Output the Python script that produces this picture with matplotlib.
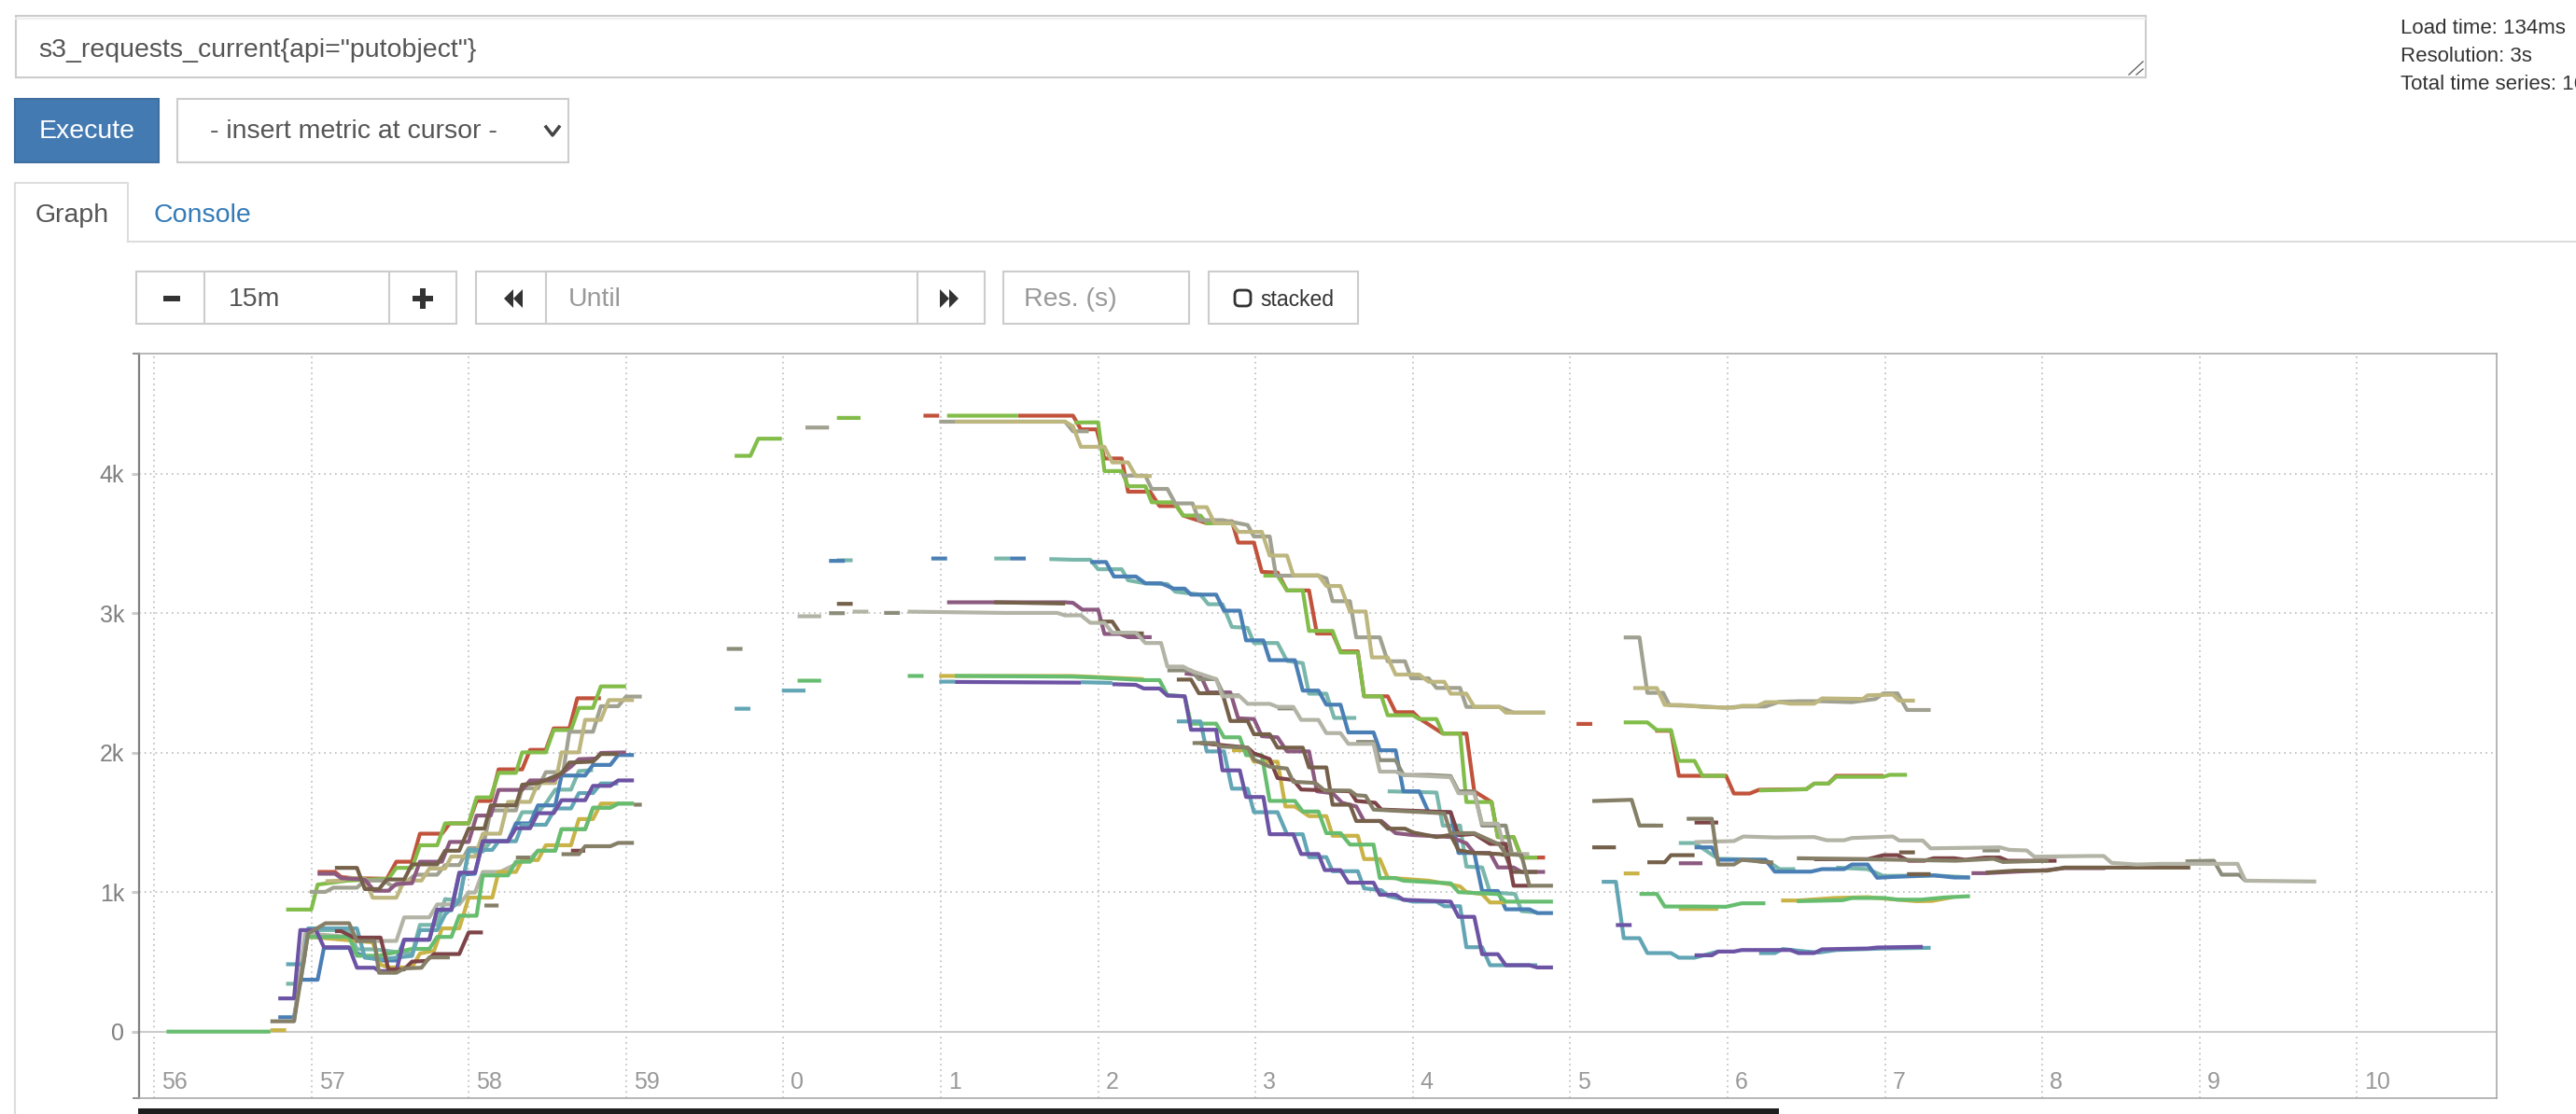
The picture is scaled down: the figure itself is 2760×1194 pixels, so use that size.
import numpy as np
import matplotlib
matplotlib.use('Agg')
import matplotlib.pyplot as plt
from matplotlib.patches import Rectangle, Polygon, FancyBboxPatch

plt.rcParams['font.family'] = ['Liberation Sans', 'DejaVu Sans']

W, H = 2760, 1194

# time is in minutes, 60 means the "0" tick of the next hour
x_ticks = [56, 57, 58, 59, 60, 61, 62, 63, 64, 65, 66, 67, 68, 69, 70]
x_labels = ['56', '57', '58', '59', '0', '1', '2', '3', '4', '5', '6', '7', '8', '9', '10']
y_ticks = [0, 1000, 2000, 3000, 4000]
y_labels = ['0', '1k', '2k', '3k', '4k']

# None = gap in the series
red = [(57.04,1145),(57.15,1145),(57.19,1108),(57.27,1100),(57.48,1096),(57.54,1218),(57.64,1218),(57.69,1419),(57.83,1419),(57.88,1493),(58.0,1493),(58.05,1654),(58.14,1654),(58.19,1880),(58.34,1880),(58.39,2020),(58.49,2020),(58.54,2174),(58.64,2174),(58.69,2390),(58.84,2390),None,
       (60.89,4416),(60.99,4416),None,(61.49,4416),(61.84,4416),(61.89,4318),(61.99,4318),(62.04,4109),(62.15,4109),(62.19,3871),(62.33,3871),(62.39,3768),(62.50,3768),(62.54,3700),(62.69,3645),(62.85,3659),(62.89,3506),(62.99,3506),(63.04,3296),(63.14,3291),(63.20,3163),(63.34,3163),(63.39,2854),(63.49,2854),(63.54,2726),(63.65,2726),(63.69,2404),(63.84,2404),(63.89,2290),(64.0,2290),(64.04,2246),(64.19,2137),(64.34,2137),(64.39,1723),(64.50,1646),(64.54,1395),(64.64,1395),(64.69,1248),(64.84,1248),None,
       (65.04,2206),(65.14,2206),None,(65.54,2157),(65.64,2157),(65.69,1834),(65.99,1834),(66.04,1707),(66.14,1707),(66.20,1734),(66.50,1738),(66.55,1778),(66.64,1778),(66.69,1834),(66.99,1834)]
green = [(56.84,875),(57.0,875),(57.04,1054),(57.23,1083),(57.49,1096),(57.54,1174),(57.64,1174),(57.69,1336),(57.80,1336),(57.85,1493),(58.0,1493),(58.05,1679),(58.14,1679),(58.19,1855),(58.30,1855),(58.34,2002),(58.49,2002),(58.54,2162),(58.65,2162),(58.70,2321),(58.79,2321),(58.84,2475),(59.0,2475),None,
         (59.69,4128),(59.79,4128),(59.84,4251),(59.99,4251),None,(60.34,4400),(60.49,4400),None,(61.04,4416),(61.49,4416),None,(61.85,4367),(62.0,4368),(62.04,4019),(62.15,4019),(62.19,3910),(62.30,3910),(62.34,3795),(62.48,3795),(62.54,3700),(62.65,3700),(62.69,3645),(62.86,3645),None,
         (63.05,3269),(63.14,3269),(63.20,3163),(63.30,3163),(63.34,2873),(63.49,2873),(63.54,2718),(63.65,2718),(63.69,2404),(63.80,2404),(63.84,2268),(64.0,2268),(64.04,2241),(64.15,2241),(64.19,2137),(64.30,2137),(64.34,1646),(64.50,1646),(64.54,1395),(64.64,1395),(64.69,1248),(64.79,1248),None,
         (65.34,2217),(65.49,2217),(65.55,2162),(65.64,2162),(65.69,1941),(65.79,1941),(65.84,1834),(65.99,1834),None,(66.20,1729),(66.50,1738),(66.55,1778),(66.64,1778),(66.69,1827),(66.99,1827),(67.03,1841),(67.14,1841)]
gray = [(56.99,1002),(57.09,1002),(57.14,1032),(57.29,1032),(57.34,1083),(57.46,1083),(57.51,1046),(57.59,1059),(57.66,1125),(57.80,1125),(57.85,1194),(57.94,1194),(58.0,1316),(58.09,1316),(58.14,1586),(58.30,1586),(58.34,1745),(58.44,1745),(58.49,1860),(58.60,1860),(58.64,2150),(58.79,2150),(58.84,2333),(58.95,2333),(59.0,2402),(59.10,2402),None,
        (60.14,4331),(60.29,4331),None,(60.99,4373),(61.79,4373),(61.84,4304),(61.94,4304),None,(62.15,3986),(62.30,3986),(62.34,3891),(62.44,3891),(62.49,3787),(62.60,3787),(62.64,3667),(62.79,3667),(62.95,3632),(62.99,3550),(63.09,3550),(63.13,3269),(63.40,3269),(63.45,3250),(63.49,3086),(63.60,3086),(63.64,2827),(63.79,2827),(63.84,2655),(63.95,2655),(63.99,2533),(64.10,2533),(64.15,2464),(64.30,2464),(64.34,2328),(64.55,2328),(64.64,2287),(64.84,2287),None,
        (65.34,2826),(65.44,2826),(65.49,2429),(65.59,2429),(65.63,2340),(65.78,2335),(65.99,2322),(66.09,2331),(66.24,2331),(66.33,2365),(66.46,2369),(66.58,2369),(66.79,2362),(66.94,2385),(66.99,2425),(67.08,2425),(67.14,2306),(67.29,2306)]
khaki = [(57.09,1078),(57.19,1083),(57.24,1100),(57.34,1100),(57.39,960),(57.54,960),(57.59,1083),(57.70,1083),(57.75,1169),(57.85,1169),(57.89,1255),(58.04,1255),(58.09,1419),(58.20,1419),(58.25,1647),(58.39,1647),(58.44,1782),(58.55,1782),(58.59,2002),(58.70,2002),(58.74,2235),(58.84,2235),(58.89,2377),(59.05,2377),None,
         (61.09,4373),(61.79,4373),(61.84,4340),(61.89,4193),(62.04,4193),(62.09,4081),(62.19,4081),(62.24,3983),(62.34,3983),None,(62.60,3760),(62.69,3760),(62.74,3645),(62.85,3645),(62.89,3583),(63.04,3583),(63.09,3413),(63.20,3413),(63.24,3272),(63.40,3272),(63.45,3195),(63.54,3195),(63.60,3012),(63.70,3012),(63.74,2683),(63.84,2683),(63.89,2560),(64.04,2560),(64.10,2508),(64.20,2508),(64.24,2423),(64.34,2423),(64.39,2328),(64.55,2328),(64.59,2287),(64.84,2287),None,
         (65.40,2463),(65.55,2463),(65.60,2342),(65.70,2342),(65.85,2327),(66.04,2322),(66.09,2336),(66.19,2336),(66.24,2362),(66.33,2362),(66.40,2351),(66.55,2351),(66.60,2389),(66.86,2385),(66.89,2411),(67.05,2416),(67.09,2373),(67.19,2373)]
teal = [(56.84,343),(56.93,343),(56.98,728),(57.24,728),(57.29,590),(57.40,590),(57.64,557),(57.69,765),(57.80,765),(57.85,950),(57.94,940),(58.0,1291),(58.09,1291),(58.14,1365),(58.25,1365),(58.34,1573),(58.44,1573),(58.49,1635),(58.55,1735),(58.65,1735),(58.70,1868),(58.79,1875),None,
        (60.34,3379),(60.44,3379),None,(61.34,3392),(61.44,3392),None,(61.69,3388),(61.84,3383),(61.95,3383),(62.0,3315),(62.15,3315),(62.19,3236),(62.30,3214),(62.44,3209),(62.49,3154),(62.59,3141),(62.65,3133),(62.70,3064),(62.79,3064),(62.85,2901),(62.95,2895),(62.99,2786),(63.14,2786),(63.20,2658),(63.30,2642),(63.34,2423),(63.45,2423),(63.50,2249),(63.64,2249),None,
        (63.84,1723),(64.15,1714),(64.19,1477),(64.30,1477),(64.34,1183),(64.44,1177),(64.49,1000),(64.65,986),(64.69,864),(64.79,855),None,
        (65.69,1352),(65.79,1352),(65.94,1239),(66.24,1232),(66.33,1165),(66.43,1165),None,(66.69,1176),(66.89,1165),(66.99,1116),(67.31,1120),(67.54,1105)]
blue = [(56.79,103),(56.89,103),(56.93,372),(57.04,372),(57.08,600),(57.24,600),(57.29,560),(57.44,510),(57.54,510),(57.59,659),(57.75,659),(57.80,870),(57.89,870),(57.94,1125),(58.04,1132),(58.09,1365),(58.25,1365),(58.30,1493),(58.39,1493),(58.44,1622),(58.55,1622),(58.59,1836),(58.74,1836),(58.79,1912),(58.90,1912),(58.95,1983),(59.05,1983),None,
        (60.29,3375),(60.39,3375),None,(60.94,3392),(61.04,3392),None,(61.44,3392),(61.54,3392),None,(61.95,3367),(62.05,3367),(62.10,3263),(62.24,3263),(62.30,3214),(62.40,3214),(62.48,3176),(62.55,3176),(62.59,3133),(62.75,3133),(62.80,3018),(62.90,3018),(62.94,2805),(63.05,2805),(63.09,2663),(63.25,2663),(63.30,2445),(63.40,2445),(63.45,2344),(63.54,2344),(63.59,2145),(63.75,2145),(63.79,2017),(63.89,2017),(63.94,1723),(64.04,1723),(64.10,1573),(64.24,1573),(64.29,1281),(64.39,1281),(64.44,1008),(64.54,1008),(64.59,877),(64.74,877),(64.79,850),(64.89,850),None,
        (65.79,1321),(65.90,1321),(65.94,1232),(66.24,1232),(66.30,1147),(66.53,1147),(66.60,1165),(66.74,1165),(66.79,1198),(66.89,1198),(66.95,1103),(67.05,1109),(67.31,1120),(67.44,1105),(67.54,1105)]
mauve = [(57.04,1132),(57.15,1132),(57.19,1100),(57.34,1090),(57.40,1010),(57.49,1010),(57.54,1059),(57.64,1064),(57.69,1218),(57.83,1218),(57.88,1360),(58.0,1360),(58.05,1549),(58.14,1549),(58.19,1733),(58.34,1733),(58.39,1801),(58.54,1801),(58.59,1850),(58.65,1900),(58.70,1953),(58.81,1958),(58.84,1998),(59.0,2002),None,
         (61.04,3078),(61.79,3078),(61.84,3074),(61.90,3025),(62.0,3025),(62.04,2851),(62.14,2851),(62.19,2828),(62.34,2828),None,(62.55,2568),(62.65,2555),(62.70,2432),(62.84,2432),(62.89,2246),(62.99,2241),(63.04,2118),(63.14,2110),(63.20,2009),(63.34,2009),(63.39,1723),(63.49,1709),(63.55,1641),(63.64,1614),(63.69,1510),(63.80,1510),(63.89,1423),(64.0,1409),(64.15,1401),(64.24,1395),(64.34,1350),(64.39,1281),(64.49,1281),(64.54,1177),(64.64,1177),(64.69,1145),(64.84,1145),None,
         (65.69,1207),(65.84,1207),None,(67.55,1136),(67.64,1136),(68.03,1158),(68.14,1172),(68.40,1172)]
brown = [(57.15,1174),(57.29,1174),(57.34,1022),(57.43,1022),(57.48,1091),(57.59,1091),(57.64,1199),(57.80,1199),(57.85,1297),(57.94,1297),(58.0,1456),(58.10,1456),(58.14,1622),(58.30,1622),(58.34,1770),(58.44,1782),(58.59,1850),(58.64,1929),(58.79,1936),(58.84,1990),(58.95,1990),None,
         (60.34,3067),(60.44,3067),None,(61.34,3078),(61.79,3069),None,(62.0,2940),(62.09,2940),(62.14,2855),(62.29,2855),None,(62.50,2524),(62.59,2524),(62.64,2426),(62.79,2426),(62.84,2227),(62.95,2227),(62.99,2132),(63.09,2132),(63.14,2036),(63.30,2036),(63.34,1894),(63.45,1894),(63.49,1627),(63.60,1627),(63.64,1510),(63.79,1510),(63.84,1455),(63.95,1455),(64.0,1428),(64.15,1395),(64.24,1410),(64.29,1300),(64.39,1281),(64.55,1273),(64.59,1265),(64.63,1145),(64.79,1145),None,
         (65.14,1321),(65.29,1321),None,(65.49,1214),(65.60,1214),(65.64,1265),(65.79,1265),None,(67.09,1285),(67.19,1285),None,(67.14,1129),(67.29,1129),None,(67.64,1140),(67.83,1154),(68.03,1154),(68.14,1176),(68.94,1176)]
lgray = [(56.89,74),(56.96,703),(57.24,680),(57.29,660),(57.43,650),(57.54,650),(57.59,819),(57.75,819),(57.80,912),(57.94,912),(58.0,997),(58.04,997),(58.09,1145),(58.20,1145),(58.30,1200),(58.39,1240),(58.44,1297),(58.55,1297),(58.59,1451),(58.74,1451),(58.79,1605),(58.90,1605),(58.95,1635),(59.05,1635),None,
         (60.09,2978),(60.24,2978),None,(60.44,3011),(60.54,3011),None,(60.79,3011),(61.41,3002),(61.74,3002),(61.79,2984),(61.89,2985),(61.95,2931),(62.04,2931),(62.09,2860),(62.24,2860),(62.30,2786),(62.40,2786),(62.44,2617),(62.54,2617),(62.59,2587),(62.75,2527),(62.79,2404),(62.90,2404),(62.95,2350),(63.09,2350),(63.14,2328),(63.24,2328),(63.29,2235),(63.40,2235),(63.45,2140),(63.54,2140),(63.59,2063),(63.75,2063),(63.79,1864),(63.89,1864),(63.94,1840),(64.10,1832),(64.24,1824),(64.29,1709),(64.39,1709),(64.44,1491),(64.54,1491),(64.59,1273),(64.74,1273),None,
         (65.44,1477),(65.54,1477),None,(65.79,1359),(66.04,1366),(66.10,1399),(66.30,1392),(66.55,1395),(66.63,1372),(66.74,1372),(66.79,1388),(67.05,1399),(67.09,1370),(67.24,1370),(67.29,1314),(67.73,1321),(67.79,1303),(67.90,1299),(67.95,1254),(68.30,1259),(68.39,1259),(68.44,1210),(68.60,1198),(68.76,1203),(69.10,1203),(69.24,1203),(69.29,1082),(69.74,1076)]
olive = [(59.64,2744),(59.74,2744),None,(60.29,3000),(60.39,3000),None,(60.64,3002),(60.74,3002),None,(62.44,2590),(62.59,2590),(62.64,2527),(62.75,2527),(62.80,2410),(62.90,2410),None,(63.14,2317),(63.24,2317),None,(63.64,2077),(63.75,2077),(63.79,1946),(63.89,1946),(63.94,1840),(64.10,1840),(64.24,1832),(64.29,1723),(64.39,1723),(64.44,1477),(64.59,1477),(64.63,1273),(64.69,1273),None,
         (67.62,1299),(67.73,1299),None,(68.91,1221),(69.09,1225),(69.14,1125),(69.25,1125),(69.29,1082)]
yellow = [(56.74,10),(56.84,10),None,(56.98,680),(57.24,655),(57.39,640),(57.44,480),(57.49,460),(57.64,460),(57.69,560),(57.78,580),(57.83,740),(57.94,740),(58.0,961),(58.15,961),(58.19,1145),(58.30,1145),(58.34,1230),(58.44,1230),(58.49,1336),(58.65,1336),(58.70,1524),(58.79,1524),(58.84,1635),(58.95,1635),None,
          (60.99,2550),(61.83,2550),(62.29,2527),None,(62.85,2017),(62.95,2017),(62.99,1935),(63.14,1935),(63.19,1614),(63.25,1614),(63.34,1545),(63.45,1545),(63.49,1404),(63.65,1404),(63.69,1237),(63.79,1237),(63.84,1104),(64.10,1082),(64.24,1055),(64.30,1041),(64.34,1000),(64.44,986),(64.49,926),(64.59,926),None,
          (65.34,1134),(65.44,1134),None,(65.69,880),(65.94,880),None,(66.34,940),(66.45,940),(66.68,958),(66.89,964),(67.20,935),(67.30,937),(67.43,964)]
lgreen = [(56.08,0),(56.74,0),None,(56.98,679),(57.24,679),(57.29,544),(57.43,544),(57.64,593),(57.75,593),(57.80,679),(57.89,679),(57.94,831),(58.05,831),(58.09,1120),(58.25,1120),(58.30,1218),(58.39,1218),(58.44,1297),(58.55,1297),(58.59,1451),(58.74,1451),(58.79,1605),(58.90,1605),(58.95,1635),(59.05,1635),None,
          (60.09,2516),(60.24,2516),None,(60.79,2550),(60.89,2550),None,(61.09,2550),(61.83,2545),(62.0,2538),(62.29,2520),(62.39,2520),(62.44,2413),(62.55,2404),(62.59,2208),(62.75,2208),(62.80,2110),(62.90,2110),(62.94,1982),(63.04,1982),(63.09,1654),(63.25,1654),(63.30,1578),(63.40,1578),(63.45,1423),(63.54,1423),(63.60,1341),(63.75,1341),(63.79,1101),(63.89,1101),(63.94,1082),(64.24,1063),(64.29,1000),(64.54,986),(64.59,932),(64.89,932),None,
          (65.44,987),(65.55,987),(65.60,897),(65.78,897),(65.99,895),(66.09,920),(66.24,920),None,(66.44,935),(66.73,942),(66.79,958),(66.99,958),(67.08,946),(67.23,946),(67.38,962),(67.54,971)]
cyan = [(56.84,483),(56.95,483),(56.98,740),(57.29,740),(57.34,530),(57.44,518),(57.64,543),(57.69,728),(57.80,728),(57.85,840),(57.94,936),(58.0,1303),(58.15,1303),(58.19,1365),(58.30,1365),(58.34,1483),(58.49,1483),(58.55,1600),(58.65,1600),(58.70,1710),(58.79,1710),(58.84,1779),(58.95,1779),None,
        (59.69,2315),(59.79,2315),None,(59.99,2445),(60.14,2445),None,(60.99,2509),(61.09,2509),None,(61.89,2505),(62.09,2500),None,(62.50,2224),(62.65,2224),(62.69,2009),(62.80,2009),(62.85,1742),(62.95,1742),(62.99,1573),(63.14,1573),(63.20,1415),(63.30,1415),(63.34,1251),(63.45,1251),(63.49,1150),(63.65,1150),(63.69,1027),(63.80,1014),(63.84,973),(64.0,932),(64.15,932),(64.20,899),(64.30,899),(64.34,605),(64.44,605),(64.49,476),(64.79,476),None,
        (65.20,1074),(65.29,1074),(65.34,670),(65.44,670),(65.49,563),(65.64,563),(65.69,530),(65.79,530),(65.94,574),None,(66.20,563),(66.30,563),(66.35,592),(66.50,574),(66.58,567),(66.69,585),(66.99,596),(67.29,601)]
violet = [(56.79,238),(56.89,238),(56.93,728),(57.03,728),(57.08,605),(57.24,605),(57.29,458),(57.40,458),(57.43,434),(57.54,434),(57.59,659),(57.75,659),(57.80,875),(57.89,875),(57.94,1140),(58.04,1140),(58.09,1365),(58.25,1365),(58.30,1458),(58.39,1458),(58.44,1566),(58.54,1566),(58.59,1659),(58.74,1659),(58.79,1762),(58.90,1762),(58.95,1801),(59.05,1801),None,
          (61.09,2507),(61.89,2502),None,(62.09,2491),(62.24,2486),(62.29,2460),(62.39,2460),(62.44,2409),(62.55,2404),(62.59,2164),(62.75,2164),(62.79,1873),(62.90,1873),(62.94,1682),(63.05,1682),(63.09,1415),(63.24,1415),(63.29,1273),(63.40,1273),(63.44,1158),(63.54,1158),(63.59,1068),(63.75,1068),(63.79,981),(63.89,981),(63.94,945),(64.24,932),(64.29,823),(64.39,823),(64.44,555),(64.54,555),(64.59,476),(64.74,476),(64.79,460),(64.89,460),None,
          (65.29,764),(65.39,764),None,(65.79,547),(65.90,547),(65.94,574),(66.04,574),(66.09,585),(66.40,585),(66.45,563),(66.55,563),(66.60,590),(66.89,596),(66.95,603),(67.24,608)]
maroon = [(57.15,720),(57.19,720),(57.27,674),(57.44,674),(57.49,446),(57.59,446),(57.64,502),(57.73,507),(57.78,556),(57.94,556),(58.0,711),(58.09,711),None,(58.65,1297),(58.74,1297),None,
          (62.65,2069),(62.95,2036),(62.99,1995),(63.09,1954),(63.14,1818),(63.24,1804),(63.29,1736),(63.60,1723),(63.64,1654),(63.76,1641),(63.80,1592),(64.24,1573),(64.29,1409),(64.39,1417),(64.49,1346),(64.59,1346),(64.64,1046),(64.74,1046),None,
          (65.79,1499),(65.94,1499),None,(66.20,1221),(66.29,1210),None,(66.55,1236),(66.89,1236),(66.99,1265),(67.08,1265),(67.15,1225),(67.25,1225),(67.31,1243),(67.44,1243),(67.51,1232),(67.64,1248),(67.73,1248),(67.78,1225),(68.09,1225)]
tan = [(56.74,74),(56.89,74),(56.98,703),(57.09,777),(57.24,777),(57.29,650),(57.40,650),(57.43,422),(57.54,422),(57.59,453),(57.70,458),(57.75,532),(57.88,532),None,(58.10,904),(58.19,904),None,(58.30,1248),(58.39,1248),None,(58.59,1272),(58.70,1272),(58.74,1329),(58.90,1329),(58.95,1353),(59.05,1353),None,(59.05,1627),(59.10,1627),None,
       (62.60,2069),(62.74,2069),(62.78,2044),(62.95,2036),(62.99,1950),(63.09,1900),(63.20,1886),(63.24,1791),(63.38,1783),(63.44,1728),(63.60,1728),(63.64,1695),(63.70,1690),(63.75,1592),(64.20,1565),(64.24,1423),(64.39,1423),(64.55,1341),(64.59,1273),(64.69,1265),(64.74,1046),(64.89,1046),None,
       (65.14,1653),(65.39,1662),(65.44,1477),(65.59,1477),None,(65.74,1526),(65.90,1526),(65.94,1198),(66.04,1198),(66.09,1232),(66.29,1210),None,(66.44,1243),(66.89,1236),(67.45,1225),(67.69,1239),(67.75,1216),(68.04,1225)]

series_values = [red, green, gray, khaki, teal, blue, mauve, brown, olive, lgray, yellow, lgreen, cyan, violet, maroon, tan]
series_colors = ['#c1533c', '#82bd4a', '#a0a190', '#bdb67f', '#7ab7ab', '#4a7fb5', '#8c5a80', '#75604a',
                 '#8b8c7a', '#b3b4a6', '#c9b347', '#67bd6f', '#62a5b5', '#6c53a4', '#7d4448', '#857f67']

fig = plt.figure(figsize=(W / 100, H / 100), dpi=100, facecolor='white')

# page furniture, in pixels
ui = fig.add_axes([0, 0, 1, 1])
ui.set_xlim(0, W)
ui.set_ylim(H, 0)
ui.axis('off')

def box(x0, y0, x1, y1, fc='white', ec='#cccccc', lw=1.5):
    ui.add_patch(Rectangle((x0, y0), x1 - x0, y1 - y0, fc=fc, ec=ec, lw=lw))

box(17, 17, 2299, 83)
ui.plot([17, 2298], [20, 20], color='#eeeeee', lw=1.5)
ui.plot([2281, 2296], [80, 66], color='#666666', lw=1)
ui.plot([2289, 2296], [80, 74], color='#666666', lw=1)
ui.text(41, 54, 's3_requests_current{api="putobject"}', fontsize=20.5, color='#555555', va='center')

box(16, 106, 170, 174, fc='#447ab2', ec='#3f6f9f')
ui.text(93, 141, 'Execute', fontsize=20.5, color='white', va='center', ha='center')
box(190, 106, 609, 174)
ui.text(225, 141, '- insert metric at cursor -', fontsize=20.5, color='#555555', va='center')
ui.plot([585, 592, 599], [136, 145, 136], color='#444444', lw=2.5)

ui.plot([16, 16, 137, 137], [H, 196, 196, 259], color='#dddddd', lw=1.5)
ui.plot([137, W], [259, 259], color='#dddddd', lw=1.5)
ui.text(38, 231, 'Graph', fontsize=20.5, color='#555555', va='center')
ui.text(164, 231, 'Console', fontsize=20.5, color='#337ab7', va='center')

box(146, 291, 489, 347)
box(219, 291, 417, 347)
box(510, 291, 1055, 347)
box(585, 291, 983, 347)
box(1075, 291, 1274, 347)
box(1295, 291, 1455, 347)
ui.text(245, 321, '15m', fontsize=20.5, color='#555555', va='center')
ui.text(609, 321, 'Until', fontsize=20.5, color='#999999', va='center')
ui.text(1097, 321, 'Res. (s)', fontsize=20.5, color='#999999', va='center')
ui.text(1350, 321, 'stacked', fontsize=16.5, color='#333333', va='center')
ui.add_patch(Rectangle((175, 317), 18, 6, fc='#333333', ec='none'))
ui.add_patch(Rectangle((442, 317), 22, 6, fc='#333333', ec='none'))
ui.add_patch(Rectangle((450, 309), 6, 22, fc='#333333', ec='none'))
for dx in (0, 10):
    ui.add_patch(Polygon([(550 + dx, 310), (550 + dx, 330), (540 + dx, 320)], fc='#333333', ec='none'))
    ui.add_patch(Polygon([(1007 + dx, 310), (1007 + dx, 330), (1017 + dx, 320)], fc='#333333', ec='none'))
ui.add_patch(FancyBboxPatch((1323, 311), 17, 17, boxstyle='round,pad=0,rounding_size=5', fc='white', ec='#333333', lw=2))

ui.text(2572, 31, 'Load time: 134ms', fontsize=16, color='#333333', va='center')
ui.text(2572, 61, 'Resolution: 3s', fontsize=16, color='#333333', va='center')
ui.text(2572, 90, 'Total time series: 16', fontsize=16, color='#333333', va='center')

ui.add_patch(Rectangle((148, 1188), 1758, 6, fc='#1e1e1e', ec='none'))

# the graph
ax = fig.add_axes([148.6 / W, (H - 1177) / H, (2675 - 148.6) / W, (1177 - 379) / H])
ax.set_xlim(55.903, 70.887)
ax.set_ylim(-477, 4861)

for values, color in zip(series_values, series_colors):
    t = [np.nan if p is None else p[0] for p in values]
    v = [np.nan if p is None else p[1] for p in values]
    ax.plot(t, v, color=color, lw=3.0, solid_joinstyle='round', solid_capstyle='butt', zorder=3)

ax.axhline(0, color='#cccccc', lw=1.5, zorder=2)
ax.set_xticks(x_ticks)
ax.set_xticklabels([])
ax.set_yticks(y_ticks, y_labels)
ax.set_yticks([-477, 4861], minor=True)
ax.grid(True, color='#bbbbbb', linestyle=(0, (1, 2.5)), lw=1.2, zorder=1)
ax.set_axisbelow(True)
ax.tick_params(axis='x', length=0)
ax.tick_params(axis='y', which='major', length=6, width=2.2, color='#cccccc', labelsize=18, labelcolor='#808080', pad=5)
ax.tick_params(axis='y', which='minor', length=5, width=1.2, color='#808080')
for name in ('top', 'right', 'bottom'):
    ax.spines[name].set_color('#aaaaaa')
    ax.spines[name].set_linewidth(1.2)
ax.spines['left'].set_color('#808080')
ax.spines['left'].set_linewidth(1.6)

for tick, label in zip(x_ticks, x_labels):
    ax.annotate(label, (tick, 0), xycoords=ax.get_xaxis_transform(), xytext=(8, 17),
                textcoords='offset pixels', fontsize=18, color='#999999', va='center', ha='left', zorder=4)

fig.savefig('out.png', dpi=100)
